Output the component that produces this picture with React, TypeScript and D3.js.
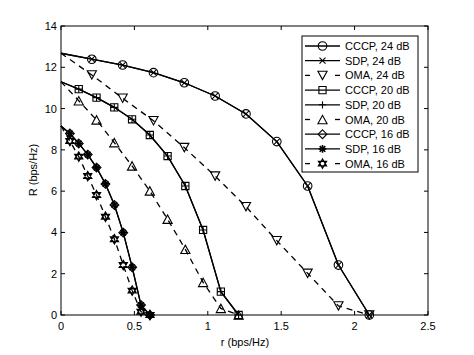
import React from "react";
import * as d3 from "d3";

const r24 = [0, 0.21, 0.42, 0.63, 0.84, 1.05, 1.26, 1.47, 1.68, 1.89, 2.1];
const r20 = [0, 0.121, 0.242, 0.363, 0.484, 0.605, 0.726, 0.847, 0.968, 1.089, 1.21];
const r16 = [0, 0.0606, 0.121, 0.182, 0.242, 0.303, 0.364, 0.424, 0.485, 0.545, 0.606];

const cccp24 = [12.68, 12.39, 12.11, 11.74, 11.25, 10.61, 9.74, 8.4, 6.25, 2.42, 0];
const sdp24 = [12.68, 12.39, 12.11, 11.74, 11.25, 10.61, 9.74, 8.4, 6.25, 2.42, 0];
const oma24 = [12.68, 11.63, 10.5, 9.41, 8.11, 6.73, 5.25, 3.6, 2.02, 0.44, 0];
const cccp20 = [11.3, 10.94, 10.53, 10.06, 9.48, 8.72, 7.7, 6.25, 4.12, 1.13, 0];
const sdp20 = [11.3, 10.94, 10.53, 10.06, 9.48, 8.72, 7.7, 6.25, 4.12, 1.13, 0];
const oma20 = [11.3, 10.38, 9.45, 8.35, 7.22, 6.01, 4.64, 3.18, 1.58, 0.32, 0];
const cccp16 = [9.16, 8.79, 8.31, 7.77, 7.14, 6.35, 5.33, 3.99, 2.31, 0.48, 0];
const sdp16 = [9.16, 8.79, 8.31, 7.77, 7.14, 6.35, 5.33, 3.99, 2.31, 0.48, 0];
const oma16 = [9.16, 8.43, 7.67, 6.73, 5.81, 4.76, 3.67, 2.42, 1.18, 0.16, 0];

const xTicks = [0, 0.5, 1, 1.5, 2, 2.5];
const yTicks = [0, 2, 4, 6, 8, 10, 12, 14];

type Series = { name: string; r: number[]; R: number[]; marker: string; dashed: boolean };
const series: Series[] = [
  { name: "CCCP, 24 dB", r: r24, R: cccp24, marker: "o", dashed: false },
  { name: "SDP, 24 dB", r: r24, R: sdp24, marker: "x", dashed: false },
  { name: "OMA, 24 dB", r: r24, R: oma24, marker: "v", dashed: true },
  { name: "CCCP, 20 dB", r: r20, R: cccp20, marker: "s", dashed: false },
  { name: "SDP, 20 dB", r: r20, R: sdp20, marker: "+", dashed: false },
  { name: "OMA, 20 dB", r: r20, R: oma20, marker: "^", dashed: true },
  { name: "CCCP, 16 dB", r: r16, R: cccp16, marker: "d", dashed: false },
  { name: "SDP, 16 dB", r: r16, R: sdp16, marker: "*", dashed: false },
  { name: "OMA, 16 dB", r: r16, R: oma16, marker: "h", dashed: true },
];

function markerPath(m: string, x: number, y: number): string {
  switch (m) {
    case "o": {
      const r = 4.3;
      return `M${x - r},${y}a${r},${r} 0 1,0 ${2 * r},0a${r},${r} 0 1,0 ${-2 * r},0Z`;
    }
    case "x": {
      const a = 3;
      return `M${x - a},${y - a}L${x + a},${y + a}M${x - a},${y + a}L${x + a},${y - a}`;
    }
    case "+": {
      const a = 3.6;
      return `M${x - a},${y}L${x + a},${y}M${x},${y - a}L${x},${y + a}`;
    }
    case "*": {
      const a = 3.8, b = 2.8;
      return `M${x - a},${y}L${x + a},${y}M${x},${y - a}L${x},${y + a}M${x - b},${y - b}L${x + b},${y + b}M${x - b},${y + b}L${x + b},${y - b}`;
    }
    case "s": {
      const a = 3.6;
      return `M${x - a},${y - a}H${x + a}V${y + a}H${x - a}Z`;
    }
    case "d": {
      const a = 4.4;
      return `M${x},${y - a}L${x + a},${y}L${x},${y + a}L${x - a},${y}Z`;
    }
    case "v": {
      const w = 4.6, h = 4.2;
      return `M${x - w},${y - h}L${x + w},${y - h}L${x},${y + h}Z`;
    }
    case "^": {
      const w = 4.6, h = 4.2;
      return `M${x - w},${y + h}L${x + w},${y + h}L${x},${y - h}Z`;
    }
    case "h": {
      const R = 4.6;
      const tri = (off: number) =>
        [0, 1, 2]
          .map((i) => {
            const ang = off + (i * 2 * Math.PI) / 3;
            return `${i === 0 ? "M" : "L"}${x + R * Math.sin(ang)},${y - R * Math.cos(ang)}`;
          })
          .join("") + "Z";
      return tri(0) + tri(Math.PI);
    }
  }
  return "";
}

const markerWidth = (m: string) => (m === "*" ? 1.6 : m === "h" ? 1.3 : 1.1);

export default function App() {
  const W = 474, H = 355;
  const x = d3.scaleLinear().domain([0, 2.5]).range([61, 428]);
  const y = d3.scaleLinear().domain([0, 14]).range([315, 26]);
  const mkLine = (s: Series) =>
    d3
      .line<[number, number]>()
      .x((d) => x(d[0]))
      .y((d) => y(d[1]))(s.r.map((v, i) => [v, s.R[i]] as [number, number])) || "";
  const font = "'Liberation Sans', Arial, sans-serif";
  const legX = 302, legY = 36, legW = 116, legH = 136;
  const rowH = 14.7;
  return (
    <svg width={W} height={H} style={{ position: "absolute", left: 0, top: 0, background: "#fff" }}>
      <rect x={0} y={0} width={W} height={H} fill="#fff" />
      {series.map((s, k) => (
        <path
          key={"l" + k}
          d={mkLine(s)}
          fill="none"
          stroke="#000"
          strokeWidth={1.3}
          strokeDasharray={s.dashed ? "6,5" : undefined}
        />
      ))}
      {series.map((s, k) => (
        <g key={"m" + k}>
          {s.r.map((v, i) =>
            i === 0 ? null : (
              <path
                key={i}
                d={markerPath(s.marker, x(v), y(s.R[i]))}
                fill="none"
                stroke="#000"
                strokeWidth={markerWidth(s.marker)}
              />
            )
          )}
        </g>
      ))}
      <rect x={61} y={26} width={367} height={289} fill="none" stroke="#000" strokeWidth={1} />
      {xTicks.map((t) => (
        <g key={"xt" + t}>
          <line x1={x(t)} x2={x(t)} y1={315} y2={311} stroke="#000" />
          <line x1={x(t)} x2={x(t)} y1={26} y2={30} stroke="#000" />
          <text x={x(t)} y={330} fontSize={11} fontFamily={font} textAnchor="middle">
            {String(t)}
          </text>
        </g>
      ))}
      {yTicks.map((t) => (
        <g key={"yt" + t}>
          <line x1={61} x2={65} y1={y(t)} y2={y(t)} stroke="#000" />
          <line x1={428} x2={424} y1={y(t)} y2={y(t)} stroke="#000" />
          <text x={57} y={y(t) + 4} fontSize={11} fontFamily={font} textAnchor="end">
            {String(t)}
          </text>
        </g>
      ))}
      <text x={245} y={346} fontSize={11} fontFamily={font} textAnchor="middle">
        r (bps/Hz)
      </text>
      <text transform={`translate(37,170) rotate(-90)`} fontSize={11} fontFamily={font} textAnchor="middle">
        R (bps/Hz)
      </text>
      <rect x={legX} y={legY} width={legW} height={legH} fill="#fff" stroke="#000" strokeWidth={1} />
      {series.map((s, k) => {
        const cy = legY + 10 + k * rowH;
        return (
          <g key={"lg" + k}>
            {s.dashed ? (
              <>
                <line x1={305} x2={310} y1={cy} y2={cy} stroke="#000" strokeWidth={1.3} />
                <line x1={335} x2={340} y1={cy} y2={cy} stroke="#000" strokeWidth={1.3} />
              </>
            ) : (
              <line x1={305} x2={340} y1={cy} y2={cy} stroke="#000" strokeWidth={1.3} />
            )}
            <path d={markerPath(s.marker, 322.5, cy)} fill="none" stroke="#000" strokeWidth={markerWidth(s.marker)} />
            <text x={345} y={cy + 4} fontSize={11} fontFamily={font}>
              {s.name}
            </text>
          </g>
        );
      })}
    </svg>
  );
}
